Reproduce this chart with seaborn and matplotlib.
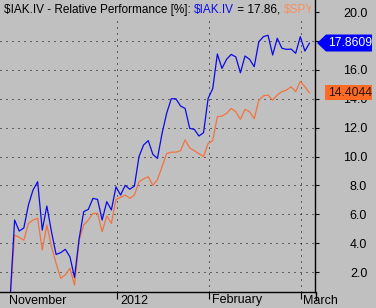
import numpy as np
import pandas as pd
import matplotlib
matplotlib.use("Agg")
import matplotlib.pyplot as plt
import seaborn as sns
from matplotlib.patches import Polygon, Rectangle
from matplotlib.transforms import IdentityTransform, Bbox


BG      = "#c0c0c0"
BLUE    = "#0a0ae6"
ORANGE  = "#f2733f"
W, H    = 376, 308

# trading days from end of November 2011 to early March 2012
dates = pd.bdate_range("2011-11-28", "2012-03-02")
dates = dates.drop(pd.to_datetime(["2011-12-26", "2012-01-02", "2012-01-16", "2012-02-20"]))

iak = [0.0, 5.6, 4.84, 5.05, 6.64, 7.68, 8.25, 4.9, 6.57, 4.79,
       3.22, 3.34, 3.57, 3.06, 1.63, 4.3, 6.18, 6.34, 7.1, 7.03,
       5.6, 6.87, 6.3, 7.9, 7.33, 8.0, 7.73, 7.96, 10.0, 10.8,
       11.1, 10.15, 9.87, 11.6, 13.0, 14.0, 14.0, 13.5, 13.33, 11.95,
       11.88, 11.42, 11.65, 14.03, 14.7, 17.1, 16.1, 16.73, 17.07, 16.9,
       15.8, 16.96, 16.73, 16.22, 17.95, 18.3, 18.4, 17.03, 18.19, 17.5,
       17.42, 17.44, 17.15, 18.3, 17.3, 17.8609]
spy = [0.0, 4.56, 4.4, 4.2, 5.37, 5.6, 5.72, 3.52, 5.25, 3.75,
       2.6, 1.56, 1.8, 2.26, 1.1, 4.2, 5.25, 5.6, 6.06, 6.06,
       4.79, 5.88, 5.37, 7.03, 7.17, 7.33, 7.1, 7.33, 8.25, 8.45,
       8.6, 8.0, 8.4, 9.3, 10.2, 10.3, 10.3, 10.4, 11.15, 10.6,
       10.4, 10.2, 10.0, 10.9, 11.1, 12.76, 12.8, 12.99, 13.33, 13.1,
       12.57, 13.27, 13.1, 12.62, 13.9, 14.2, 14.26, 13.9, 14.26, 14.49,
       14.6, 14.83, 14.49, 15.2, 14.83, 14.4044]

month_labels = ["November", "2012", "February", "March"]
y_ticks = np.arange(2, 21, 2)

df = pd.DataFrame({"i": np.arange(len(dates)), "$SPY": spy, "$IAK.IV": iak})
long = df.melt(id_vars="i", var_name="series", value_name="pct")

sns.set_theme(style="white", rc={"axes.facecolor": BG, "figure.facecolor": BG})
plt.rcParams["font.family"] = ["Liberation Sans", "DejaVu Sans"]
plt.rcParams["text.parse_math"] = False

fig = plt.figure(figsize=(W / 100, H / 100), dpi=100)
ax = fig.add_axes([0, 16 / H, 315 / W, 292 / H])
ax.set_facecolor(BG)

sns.lineplot(data=long, x="i", y="pct", hue="series",
             palette={"$SPY": ORANGE, "$IAK.IV": BLUE},
             linewidth=0.9, legend=False, ax=ax, zorder=3)

ax.set_xlim(-2.17, 66.19)
ax.set_ylim(0.615, 20.84)

# month boundaries (tick sits just before the first trading day)
starts = np.where(dates.month[1:] != dates.month[:-1])[0] + 1
starts = starts[1:]  # December is not labelled
tick_pos = starts - 0.85

dot = (0, (1, 5))
ax.hlines(y_ticks[y_ticks < 20], -2.17, 66.19, colors="black",
          linestyles=dot, linewidth=0.72, zorder=1)
ax.vlines(tick_pos, 0.615, 19.6, colors="black", linestyles=dot,
          linewidth=0.72, zorder=1)

ax.set_xticks(tick_pos)
ax.set_xticklabels([])
ax.tick_params(axis="x", direction="out", length=5, width=0.8, colors="black",
               bottom=True)
label_x = np.concatenate([[0], tick_pos])
offsets = [-0.7, 2.6, 2.4, 1.8]
for x, lab, off in zip(label_x, month_labels, offsets):
    ax.annotate(lab, xy=(x, 0), xycoords=("data", "axes fraction"),
                xytext=(off, -1.8), textcoords="offset points",
                ha="left", va="top", fontsize=9, color="black",
                annotation_clip=False)

ax.yaxis.tick_right()
ax.set_yticks(y_ticks, labels=[f"{v:.1f}" for v in y_ticks], ha="right")
ax.tick_params(axis="y", direction="out", length=3, width=0.8, pad=34.6,
               labelsize=9, colors="black", right=True)
ax.set_xlabel("")
ax.set_ylabel("")

for side in ["top", "left"]:
    ax.spines[side].set_visible(False)
for side in ["right", "bottom"]:
    ax.spines[side].set_color("black")
    ax.spines[side].set_linewidth(1.0)
fig.add_artist(plt.Line2D([315.5, 315.5], [H - 300, H - 292], color="black",
                          linewidth=1.0, transform=IdentityTransform()))

# title, pieced together in colour
renderer = fig.canvas.get_renderer()
TITLE_FS = 8.5
pieces = [("$IAK.IV - Relative Performance [%]: ", "black"),
          ("$IAK.IV", BLUE),
          (" = 17.86, ", "black"),
          ("$SPY", "#f7905f")]


def text_width(s):
    t = fig.text(0, 0, s + "M", fontsize=TITLE_FS)
    m = fig.text(0, 0, "M", fontsize=TITLE_FS)
    w = t.get_window_extent(renderer).width - m.get_window_extent(renderer).width
    t.remove()
    m.remove()
    return w


clip = Bbox([[0, 0], [311, H]])
x0, prefix = 4, ""
for s, c in pieces:
    t = fig.text(x0 + text_width(prefix), H - 9.5, s, color=c, fontsize=TITLE_FS,
                 va="center", ha="left", transform=IdentityTransform())
    t.set_clip_on(True)
    t.set_clip_box(clip)
    prefix += s

# last-value markers on the right scale
yb = ax.transData.transform((0, iak[-1]))[1]
fig.add_artist(Polygon([(317, yb), (326, yb + 8.5), (372, yb + 8.5),
                        (372, yb - 8.5), (326, yb - 8.5)], closed=True,
                       facecolor="#0000ff", edgecolor="none",
                       transform=IdentityTransform(), zorder=5))
fig.text(350.5, yb, f"{iak[-1]:.4f}", color="white", fontsize=8.8,
         ha="center", va="center", transform=IdentityTransform(), zorder=6)

yo = ax.transData.transform((0, spy[-1]))[1]
fig.add_artist(Rectangle((325, yo - 7.5), 47, 15, facecolor="#ff6a24",
                         edgecolor="none", transform=IdentityTransform(),
                         zorder=5))
fig.text(350.5, yo, f"{spy[-1]:.4f}", color="#201810", fontsize=8.8,
         ha="center", va="center", transform=IdentityTransform(), zorder=6)

fig.savefig("out.png", dpi=100, facecolor=BG)
